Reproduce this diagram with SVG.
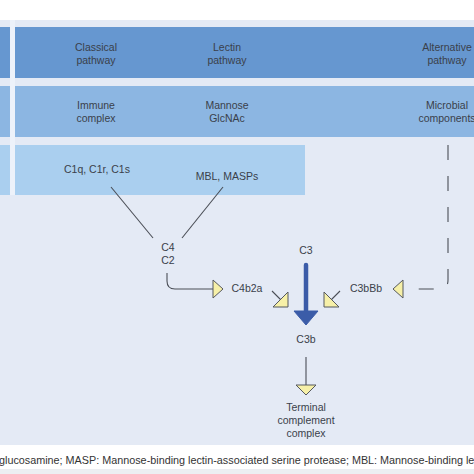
<svg xmlns="http://www.w3.org/2000/svg" width="474" height="474" viewBox="0 0 474 474">
<defs>
<style>
text{font-family:"Liberation Sans",Arial,sans-serif;font-size:10.5px;fill:#3a3f4a;text-anchor:middle}
.tri{fill:#f6f0a8;stroke:#55585e;stroke-width:1;stroke-linejoin:miter}
.ln{fill:none;stroke:#4a4e56;stroke-width:1.1}
</style>
</defs>
<rect x="0" y="0" width="474" height="474" fill="#ffffff"/>
<rect x="0" y="20" width="474" height="425" fill="#e4eaf5"/>
<rect x="0" y="469" width="474" height="5" fill="#eceef2"/>
<!-- rows -->
<g id="row1">
<rect x="0" y="27" width="10" height="51" fill="#6697d0"/>
<rect x="15" y="27" width="459" height="51" fill="#6697d0"/>
</g>
<g id="row2">
<rect x="0" y="86" width="10" height="51" fill="#8cb6e2"/>
<rect x="15" y="86" width="459" height="51" fill="#8cb6e2"/>
</g>
<g id="row3">
<rect x="0" y="145" width="10" height="50" fill="#aacfef"/>
<rect x="15" y="145" width="290" height="50" fill="#aacfef"/>
</g>
<rect x="10" y="20" width="5" height="175" fill="#edf2fa"/>
<g id="classical"><text x="96" y="51">Classical</text><text x="96" y="64">pathway</text></g>
<g id="lectin"><text x="227" y="51">Lectin</text><text x="227" y="64">pathway</text></g>
<g id="alternative"><text x="447" y="51">Alternative</text><text x="447" y="64">pathway</text></g>
<g id="immune"><text x="96" y="109">Immune</text><text x="96" y="122">complex</text></g>
<g id="mannose"><text x="227" y="109">Mannose</text><text x="227" y="122">GlcNAc</text></g>
<g id="microbial"><text x="447" y="109">Microbial</text><text x="447" y="122">components</text></g>
<g id="c1"><text x="97" y="173">C1q, C1r, C1s</text></g>
<g id="mbl"><text x="227" y="180">MBL, MASPs</text></g>
<g id="c4c2"><text x="168" y="251">C4</text><text x="168" y="264">C2</text></g>
<g id="c3"><text x="306" y="254">C3</text></g>
<g id="c4b2a"><text x="247" y="292">C4b2a</text></g>
<g id="c3bbb"><text x="366" y="292">C3bBb</text></g>
<g id="c3b"><text x="306" y="343">C3b</text></g>
<g id="terminal"><text x="306" y="411">Terminal</text><text x="306" y="424">complement</text><text x="306" y="437">complex</text></g>
<g id="connectors">
<path class="ln" d="M111,187 L153,238"/>
<path class="ln" d="M223,187 L182,238"/>
<path class="ln" d="M167,273 V281 Q167,289 175,289 H213"/>
<polygon class="tri" points="213,280 223,289 213,298"/>
<path class="ln" d="M448,145 V280 Q448,289 440,289 H403" stroke-dasharray="15 16"/>
<polygon class="tri" points="403,280 393,289 403,298"/>
<path class="ln" d="M272,291 L281,300"/>
<polygon class="tri" points="273,307 288,292 288,307"/>
<path class="ln" d="M340,291 L331,300"/>
<polygon class="tri" points="339,307 324,292 324,307"/>
<path d="M306,265 V313" stroke="#3b5ca8" stroke-width="4.5" stroke-linecap="round"/>
<polygon points="294,311 318,311 306,325" fill="#3b5ca8" stroke="#3b5ca8" stroke-width="1" stroke-linejoin="round"/>
<path class="ln" d="M306,357 V385" stroke="#777b82"/>
<polygon class="tri" points="296,385 316,385 306,395"/>
</g>
<text x="-1" y="464" style="text-anchor:start;font-size:10.8px;fill:#333">glucosamine; MASP: Mannose-binding lectin-associated serine protease; MBL: Mannose-binding lectin</text>
</svg>
